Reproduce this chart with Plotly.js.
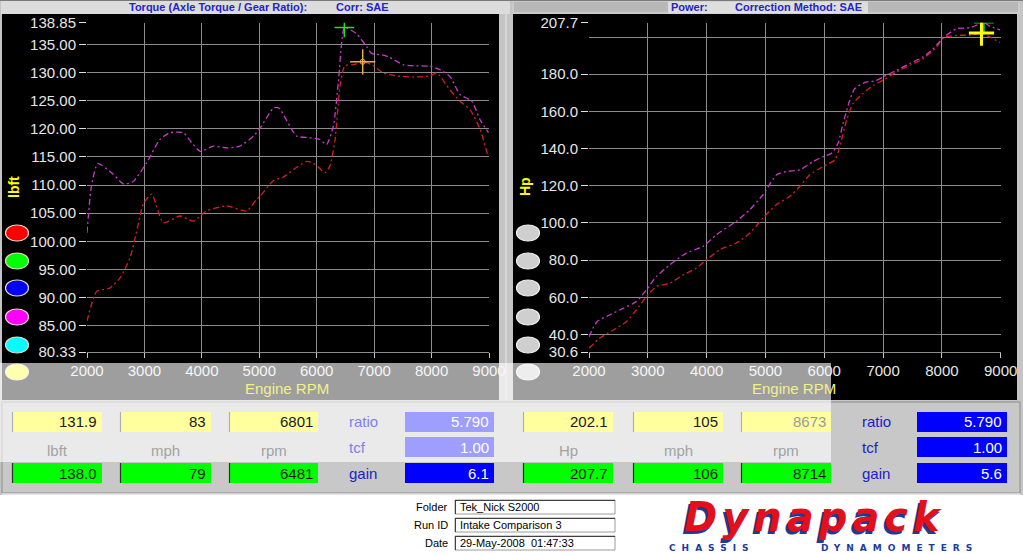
<!DOCTYPE html>
<html>
<head>
<meta charset="utf-8">
<script src="https://cdn.plot.ly/plotly-3.0.1.min.js"></script>
<style>html,body{margin:0;padding:0;background:#c4c4c4;}#chart{width:1023px;height:554px;}</style>
</head>
<body>
<div id="chart"></div>
<script>
// ---------- DATA ----------
const rpmTicks = [2000, 3000, 4000, 5000, 6000, 7000, 8000, 9000];
const torqueTicks = [80.33, 85, 90, 95, 100, 105, 110, 115, 120, 125, 130, 135, 138.85];
const torqueTickText = ['80.33','85.00','90.00','95.00','100.00','105.00','110.00','115.00','120.00','125.00','130.00','135.00','138.85'];
const torqueGrid = [85, 90, 95, 100, 105, 110, 115, 120, 125, 130, 135];
const powerTicks = [30.6, 40, 60, 80, 100, 120, 140, 160, 180, 207.7];
const powerTickText = ['30.6','40.0','60.0','80.0','100.0','120.0','140.0','160.0','180.0','207.7'];
const powerGrid = [40, 60, 80, 100, 120, 140, 160, 180, 200];
const rpmGrid = [3000, 4000, 5000, 6000, 7000, 8000, 9000];

// Run 1 (red) torque
const torqueRedRpm = [2000,2170,2400,2575,2750,2865,2980,3126,3330,3620,3850,4080,4430,4780,4955,5020,5250,5420,5600,5830,5970,6145,6230,6320,6405,6490,6640,6801,6955,7160,7390,7680,7970,8090,8320,8495,8670,8845,8980];
const torqueRed    = [85.8,91.1,91.7,93.5,97.1,101.8,106.6,108.4,103.3,104.5,103.6,105.4,106.3,105.4,107.5,108.1,110.8,111.4,112.8,114.2,113.7,112.2,113.4,118.1,127.5,131.2,131.4,131.9,131.4,129.9,129.4,129.2,129.4,129.9,126.9,124.9,123.4,119.9,115.2];
// Run 2 (magenta) torque
const torqueMagRpm = [2000,2080,2190,2460,2630,2800,3040,3270,3445,3680,3825,3970,4200,4430,4660,4900,5020,5250,5340,5530,5650,5880,6050,6170,6290,6375,6481,6550,6690,6870,6955,7160,7270,7500,7680,7970,8145,8320,8495,8700,8845,8990];
const torqueMag    = [101.5,110.0,113.8,111.9,110.2,110.6,114.0,118.1,119.3,119.3,117.5,116.0,116.9,116.6,116.9,118.7,120.2,123.7,123.7,120.5,118.7,118.4,118.1,117.2,120.5,128.1,138.0,137.8,136.9,134.6,133.4,133.1,132.7,131.4,131.2,131.1,130.5,129.3,126.1,124.9,121.6,119.3];
// Run 1 (red) power
const powerRedRpm = [2000,2180,2410,2635,2805,2975,3145,3375,3600,3825,4000,4225,4505,4735,4960,5190,5400,5585,5755,5980,6180,6265,6380,6490,6660,6835,7005,7230,7455,7685,7910,8025,8250,8500,8673,8820,8990];
const powerRed    = [32.6,38.0,42.4,46.9,53.2,60.4,65.8,67.6,72.1,75.7,80.2,85.6,89.2,94.6,102.7,109.9,114.0,119.6,125.9,130.4,133.9,141.1,155.4,164.3,169.6,174.1,176.8,181.3,184.8,188.4,194.6,199.6,200.9,201.0,202.1,200.0,197.0];
// Run 2 (magenta) power
const powerMagRpm = [2000,2135,2350,2580,2805,2975,3145,3375,3655,3940,4165,4505,4735,4960,5190,5360,5585,5810,5980,6125,6235,6320,6435,6520,6720,6860,7005,7230,7455,7685,7855,8025,8250,8480,8714,8820,8990];
const powerMag    = [38.8,46.9,50.5,54.1,57.7,64.0,71.2,77.5,83.8,87.4,93.7,100.9,107.2,115.3,125.9,127.7,128.6,133.0,135.7,137.5,142.9,153.6,166.1,172.3,175.9,176.3,178.6,182.1,185.7,189.3,193.8,199.6,204.5,205.0,207.7,205.7,203.9];

// cursor readouts
const torqueCursorRed = {rpm: 6801, val: 131.9, mph: 83};
const torqueCursorMag = {rpm: 6481, val: 138.0, mph: 79};
const powerCursorRed = {rpm: 8673, val: 202.1, mph: 105};
const powerCursorMag = {rpm: 8714, val: 207.7, mph: 106};
const leftRatio = ['5.790', '1.00', '6.1'];
const rightRatio = ['5.790', '1.00', '5.6'];
const ratioLabels = ['ratio', 'tcf', 'gain'];
const infoLabels = ['Folder', 'Run ID', 'Date'];
const infoValues = ['Tek_Nick S2000', 'Intake Comparison 3', '29-May-2008  01:47:33'];

// ---------- HELPERS ----------
const W = 1023, H = 554;
const px = x => x / W;
const py = y => 1 - y / H;
const FONT = 'Liberation Sans, Arial, sans-serif';
const shapes = [];
const annotations = [];
function rect(x0, y0, x1, y1, fill, line, lw, layer) {
  shapes.push({type:'rect', xref:'paper', yref:'paper', x0:px(x0), x1:px(x1), y0:py(y1), y1:py(y0),
    fillcolor: fill, line:{color: line || 'rgba(0,0,0,0)', width: lw === undefined ? 1 : lw}, layer: layer || 'above'});
}
function hline(x0, x1, y, color, w, layer) {
  shapes.push({type:'line', xref:'paper', yref:'paper', x0:px(x0), x1:px(x1), y0:py(y), y1:py(y),
    line:{color:color, width:w||1}, layer: layer || 'above'});
}
function vline(x, y0, y1, color, w, layer) {
  shapes.push({type:'line', xref:'paper', yref:'paper', x0:px(x), x1:px(x), y0:py(y0), y1:py(y1),
    line:{color:color, width:w||1}, layer: layer || 'above'});
}
function ellipse(cx, cy, w, h, fill, line) {
  shapes.push({type:'circle', xref:'paper', yref:'paper', x0:px(cx-w/2), x1:px(cx+w/2), y0:py(cy+h/2), y1:py(cy-h/2),
    fillcolor: fill, line:{color: line, width: 1.2}, layer:'above'});
}
function text(t, x, y, opts) {
  opts = opts || {};
  const font = {family: opts.family || FONT, size: opts.size || 13, color: opts.color || '#000',
      weight: opts.weight || 'normal', style: opts.style || 'normal'};
  if (opts.shadow) font.shadow = opts.shadow;
  annotations.push({text: t, xref:'paper', yref:'paper', x: px(x), y: py(y), showarrow:false,
    xanchor: opts.xanchor || 'center', yanchor: 'middle', textangle: opts.angle || 0, font: font});
}

// ---------- BACKGROUND / FRAME ----------
rect(0, 0, 1023, 554, '#c4c4c4', null, 0, 'below');
rect(0, 495, 1023, 554, '#ffffff', null, 0, 'below');
// title bars
rect(1, 1, 510, 14, '#dcdcdc', null, 0, 'below');
rect(512, 1, 1020, 14, '#cacaca', null, 0, 'below');
[3,5,7,9,11].forEach(y => { hline(514, 668, y, '#a6a6a6', 1, 'below'); hline(868, 1018, y, '#a6a6a6', 1, 'below'); });
rect(668, 1.5, 868, 13.5, '#dedede', null, 0, 'below');
hline(0, 1023, 0.5, '#7a7a7a', 1, 'below');
// black plot panels
rect(2, 14, 499, 400, '#000000', null, 0, 'below');
rect(513, 14, 1017, 400, '#000000', null, 0, 'below');
vline(506, 14, 400, '#e8e8e8', 1, 'below');
// readout panel
rect(2, 402, 1020, 493, '#c8c8c8', '#8c8c8c', 1, 'below');
hline(2, 1020, 494, '#ffffff', 1, 'below');

// legend buttons
const legendLeft = ['#ff0000', '#00ff00', '#0000ff', '#ff00ff', '#00ffff', '#ffff30'];
const legendY = [233, 261, 288, 317, 345, 372];
legendLeft.forEach((c, i) => ellipse(17, legendY[i], 23, 16, c, '#e8d8c8'));
legendY.forEach(y => ellipse(528, y, 23, 16, '#cfcfcf', '#eeeeee'));

// readout boxes
function box(x0, y0, x1, y1, fill) {
  rect(x0, y0, x1, y1, fill, null, 0, 'above');
  vline(x0 + 0.5, y0, y1, '#303030', 1.2, 'above');
}
const leftCols = [[12,102],[120,211],[229,318]];
const rightCols = [[523,613],[633,723],[741,831]];
const rowTop = [412, 432], rowBot = [463, 483];
leftCols.concat(rightCols).forEach(c => { box(c[0], rowTop[0], c[1], rowTop[1], '#ffff00'); box(c[0], rowBot[0], c[1], rowBot[1], '#00ff00'); });
const ratioRows = [[412,432],[437,457],[463,483]];
ratioRows.forEach(r => { rect(405, r[0], 494, r[1], '#0000ff', null, 0); rect(917, r[0], 1007, r[1], '#0000ff', null, 0); });

// info boxes
const infoY = [507, 525, 543];
infoY.forEach((y, i) => {
  rect(455, y - 7, 615, y + 7, '#ffffff', '#9a9a9a', 1, 'above');
  vline(455.5, y - 7, y + 7, '#404040', 1, 'above');
  hline(455, 615, y - 6.5, '#404040', 1, 'above');
  text(infoLabels[i], 450, y, {xanchor:'right', size: 11});
  text(infoValues[i], 458, y, {xanchor:'left', size: 11});
});

// translucent band (as seen over the lower left part of the image)
rect(0, 363, 831, 462, 'rgba(255,255,255,0.62)', null, 0, 'above');

// ---------- TEXTS ----------
const titleColor = '#2424c8';
text('Torque (Axle Torque / Gear Ratio):', 218, 7, {size: 11, weight: 'bold', color: titleColor});
text('Corr: SAE', 362, 7, {size: 11, weight: 'bold', color: titleColor});
text('Power:', 689, 7, {size: 11, weight: 'bold', color: titleColor});
text('Correction Method: SAE', 798, 7, {size: 11, weight: 'bold', color: titleColor});

text('lbft', 14, 187, {angle: -90, size: 14, weight: 'bold', color: '#ffff00'});
text('Hp', 525, 187, {angle: -90, size: 14, weight: 'bold', color: '#ffff00'});
text('Engine RPM', 287, 388, {size: 15, color: '#f2f08a'});
text('Engine RPM', 794, 388, {size: 15, color: '#f2f08a'});

// readout values
const leftTop = [torqueCursorRed.val.toFixed(1), String(torqueCursorRed.mph), String(torqueCursorRed.rpm)];
const leftBot = [torqueCursorMag.val.toFixed(1), String(torqueCursorMag.mph), String(torqueCursorMag.rpm)];
const rightTop = [powerCursorRed.val.toFixed(1), String(powerCursorRed.mph), String(powerCursorRed.rpm)];
const rightBot = [powerCursorMag.val.toFixed(1), String(powerCursorMag.mph), String(powerCursorMag.rpm)];
const leftUnits = ['lbft', 'mph', 'rpm'], rightUnits = ['Hp', 'mph', 'rpm'];
leftCols.forEach((c, i) => {
  text(leftTop[i], c[1] - 3, 422, {xanchor: 'right', size: 15, color: '#1a1a1a'});
  text(leftBot[i], c[1] - 3, 473, {xanchor: 'right', size: 15, color: '#1a1a1a'});
  text(leftUnits[i], (c[0] + c[1]) / 2, 450, {size: 15, color: '#a2a2a2'});
});
rightCols.forEach((c, i) => {
  text(rightTop[i], c[1] - 3, 422, {xanchor: 'right', size: 15, color: i === 2 ? '#9a9a9a' : '#1a1a1a'});
  text(rightBot[i], c[1] - 3, 473, {xanchor: 'right', size: 15, color: '#1a1a1a'});
  text(rightUnits[i], (c[0] + c[1]) / 2, 450, {size: 15, color: '#a2a2a2'});
});
ratioLabels.forEach((l, i) => {
  const y = (ratioRows[i][0] + ratioRows[i][1]) / 2;
  text(l, 347, y, {xanchor: 'left', size: 15, color: i < 2 ? '#8080ee' : '#2020c8'});
  text(l, 860, y, {xanchor: 'left', size: 15, color: '#2020c8'});
  text(leftRatio[i], 491, y, {xanchor: 'right', size: 15, color: '#ffffff'});
  text(rightRatio[i], 1004, y, {xanchor: 'right', size: 15, color: '#ffffff'});
});

// logo
text('<span style="letter-spacing:5px">Dynapack</span>', 814, 517, {size: 40, weight: 'bold', style: 'italic', color: '#e3101c', family: 'DejaVu Sans, sans-serif', shadow: '-2px 3px 0px #1c3c9c'});
text('<span style="letter-spacing:6px">CHASSIS</span>', 712, 548, {size: 9, weight: 'bold', color: '#1c3c9c', family: 'DejaVu Sans, sans-serif'});
text('<span style="letter-spacing:6px">DYNAMOMETERS</span>', 899, 548, {size: 9, weight: 'bold', color: '#1c3c9c', family: 'DejaVu Sans, sans-serif'});

// ---------- TRACES ----------
const dashPat = '6px,3px,2px,3px';
const traces = [
  {x: torqueRedRpm, y: torqueRed, type: 'scatter', mode: 'lines', line: {color: '#d42020', width: 1.3, dash: dashPat, shape: 'spline', smoothing: 0.6}, xaxis: 'x', yaxis: 'y'},
  {x: torqueMagRpm, y: torqueMag, type: 'scatter', mode: 'lines', line: {color: '#c83cc8', width: 1.3, dash: dashPat, shape: 'spline', smoothing: 0.6}, xaxis: 'x', yaxis: 'y'},
  {x: powerRedRpm, y: powerRed, type: 'scatter', mode: 'lines', line: {color: '#d42020', width: 1.3, dash: dashPat, shape: 'spline', smoothing: 0.6}, xaxis: 'x2', yaxis: 'y2'},
  {x: powerMagRpm, y: powerMag, type: 'scatter', mode: 'lines', line: {color: '#c83cc8', width: 1.3, dash: dashPat, shape: 'spline', smoothing: 0.6}, xaxis: 'x2', yaxis: 'y2'},
  {x: [torqueCursorMag.rpm], y: [torqueCursorMag.val], type: 'scatter', mode: 'markers', marker: {symbol: 'cross-thin-open', size: 14, color: '#20e020', line: {color: '#20e020', width: 1.5}}, xaxis: 'x', yaxis: 'y'},
  {x: [torqueCursorRed.rpm], y: [torqueCursorRed.val], type: 'scatter', mode: 'markers', marker: {symbol: 'cross-thin-open', size: 18, color: '#e8b040', line: {color: '#e8b040', width: 1.5}}, xaxis: 'x', yaxis: 'y'},
  {x: [torqueCursorRed.rpm], y: [torqueCursorRed.val], type: 'scatter', mode: 'markers', marker: {symbol: 'circle-open', size: 5, color: '#e8b040', line: {color: '#e8b040', width: 1}}, xaxis: 'x', yaxis: 'y'},
  {x: [powerCursorMag.rpm], y: [powerCursorMag.val], type: 'scatter', mode: 'markers', marker: {symbol: 'cross-thin-open', size: 14, color: '#20e020', line: {color: '#20e020', width: 1.5}}, xaxis: 'x2', yaxis: 'y2'},
  {x: [powerCursorRed.rpm], y: [powerCursorRed.val], type: 'scatter', mode: 'markers', marker: {symbol: 'cross-thin-open', size: 18, color: '#ffff00', line: {color: '#ffff00', width: 3}}, xaxis: 'x2', yaxis: 'y2'}
];

// ---------- AXES ----------
const tickFont = {family: FONT, size: 15, color: '#e6e6e6'};
const gridCol = '#8c8c8c';
function xAxis(domain, anchor) {
  return {domain: domain, anchor: anchor, range: [2000, 9000], tickmode: 'array', tickvals: rpmTicks,
    ticktext: rpmTicks.map(String), ticks: 'outside', ticklen: 5, tickcolor: '#c8c8c8', tickfont: tickFont,
    showgrid: false, zeroline: false, showline: true, linecolor: gridCol, linewidth: 1,
    minor: {tickmode: 'array', tickvals: rpmGrid, showgrid: true, gridcolor: gridCol, gridwidth: 1, ticks: ''},
    fixedrange: true};
}
function yAxis(domain, anchor, range, tv, tt, grid) {
  return {domain: domain, anchor: anchor, range: range, tickmode: 'array', tickvals: tv, ticktext: tt,
    ticks: 'outside', ticklen: 7, tickcolor: '#e0e0e0', tickfont: tickFont, showgrid: false, zeroline: false,
    showline: false,
    minor: {tickmode: 'array', tickvals: grid, showgrid: true, gridcolor: gridCol, gridwidth: 1, ticks: ''},
    fixedrange: true};
}
const yDom = [py(352), py(22.7)];
const layout = {
  width: W, height: H, autosize: false,
  margin: {l: 0, r: 0, t: 0, b: 0, pad: 0},
  paper_bgcolor: '#c4c4c4', plot_bgcolor: 'rgba(0,0,0,0)',
  showlegend: false,
  xaxis: xAxis([px(87), px(489)], 'y'),
  yaxis: yAxis(yDom, 'x', [80.33, 138.85], torqueTicks, torqueTickText, torqueGrid),
  xaxis2: xAxis([px(589), px(1000.7)], 'y2'),
  yaxis2: yAxis(yDom, 'x2', [30.6, 207.7], powerTicks, powerTickText, powerGrid),
  shapes: shapes,
  annotations: annotations
};
Plotly.newPlot('chart', traces, layout, {displayModeBar: false, staticPlot: true});
</script>
</body>
</html>
